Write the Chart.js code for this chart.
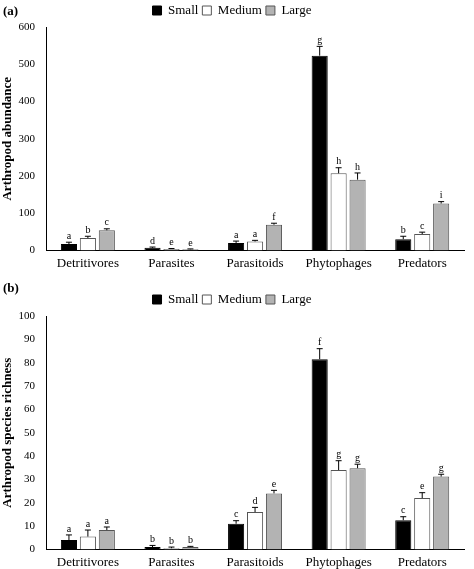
<!DOCTYPE html>
<html><head><meta charset="utf-8">
<script src="https://cdn.jsdelivr.net/npm/chart.js@4"></script>
<style>body{margin:0;background:#fff;overflow:hidden}canvas{position:absolute;left:0}</style>
</head><body>
<canvas id="a" style="top:0"></canvas>
<canvas id="b" style="top:280px"></canvas>
<script>
const categories=["Detritivores","Parasites","Parasitoids","Phytophages","Predators"];
const seriesNames=["Small","Medium","Large"];
const colors=["#000000","#ffffff","#b3b3b3"];
const abundSmall=[17,7,20,523,30], abundSmallErr=[5,2,5,25,8];
const abundMedium=[33,4,24,207,44], abundMediumErr=[5,1,3,15,5];
const abundLarge=[54,3,69,190,126], abundLargeErr=[4,1,4,18,5];
const abundLetters=[["a","d","a","g","b"],["b","e","a","h","c"],["c","e","f","h","i"]];
const richSmall=[4,1,11,81.5,12.5], richSmallErr=[2.2,0.7,1.3,4.5,1.5];
const richMedium=[5.5,0.5,16,34,22], richMediumErr=[2.8,0.5,2,4,2.3];
const richLarge=[8.3,1,24,34.8,31.2], richLargeErr=[1.3,0.3,1.3,1.7,1];
const richLetters=[["a","b","c","f","c"],["a","b","d","g","e"],["a","b","e","g","g"]];
const F="'Liberation Serif','Times New Roman',serif";

const errPlugin={id:'err',afterDatasetsDraw(ch){
  const c=ch.ctx, o=ch.options.plugins.err;
  ch.data.datasets.forEach((ds,i)=>{
    ch.getDatasetMeta(i).data.forEach((bar,j)=>{
      const top=ch.scales.y.getPixelForValue(ds.data[j]+o.errs[i][j]);
      c.save();c.strokeStyle='#000';c.lineWidth=1;
      c.beginPath();c.moveTo(bar.x,bar.y);c.lineTo(bar.x,top);
      c.moveTo(bar.x-3,top);c.lineTo(bar.x+3,top);c.stroke();
      c.fillStyle='#000';c.font='10px '+F;c.textAlign='center';c.textBaseline='bottom';
      c.fillText(o.letters[i][j],bar.x,top-1);
      c.restore();
    });
  });
  c.save();c.fillStyle='#000';c.font='bold 13px '+F;c.textBaseline='top';
  c.fillText(o.tag,3,o.tagY);c.restore();
}};

function make(id,vals,errs,letters,max,step,ytitle,tag,tagY,pad){
  const cv=document.getElementById(id);
  return new Chart(cv,{type:'bar',
    data:{labels:categories,datasets:vals.map((v,i)=>({label:seriesNames[i],data:v,backgroundColor:colors[i],borderColor:i==0?'#000':'#555',borderWidth:1,barPercentage:0.85,categoryPercentage:0.68}))},
    options:{responsive:false,animation:false,devicePixelRatio:1,
      layout:{padding:pad},
      plugins:{err:{errs,letters,tag,tagY},tooltip:{enabled:false},
        legend:{labels:{boxWidth:9,boxHeight:9,font:{family:F,size:13},color:'#000',padding:4}}},
      scales:{x:{grid:{display:false,drawTicks:false},border:{color:'#000'},ticks:{color:'#000',font:{family:F,size:13},padding:5}},
        y:{min:0,max,ticks:{stepSize:step,color:'#000',font:{family:F,size:11}},grid:{display:false},border:{color:'#000'},
          title:{display:true,text:ytitle,color:'#000',font:{family:F,size:13,weight:'bold'},padding:0}}}}
    ,plugins:[errPlugin]});
}
document.getElementById('a').width=474;document.getElementById('a').height=276;
document.getElementById('b').width=474;document.getElementById('b').height=295;
make('a',[abundSmall,abundMedium,abundLarge],[abundSmallErr,abundMediumErr,abundLargeErr],abundLetters,600,100,'Arthropod abundance','(a)',5,{left:0,right:10,top:0,bottom:0});
make('b',[richSmall,richMedium,richLarge],[richSmallErr,richMediumErr,richLargeErr],richLetters,100,10,'Arthropod species richness','(b)',2,{left:0,right:10,top:9,bottom:0});
</script></body></html>
